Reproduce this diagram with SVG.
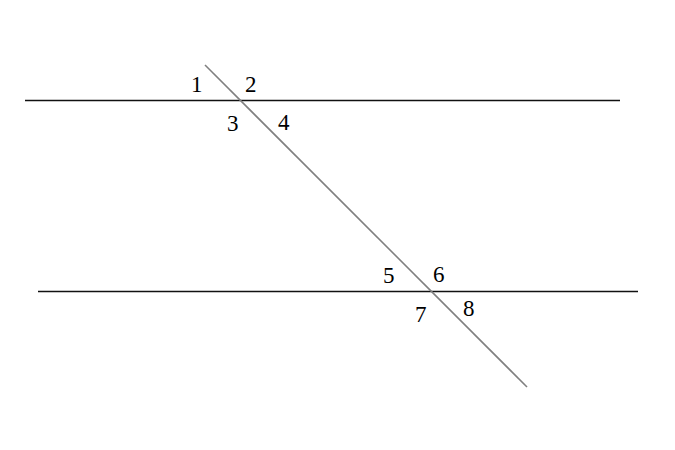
<svg xmlns="http://www.w3.org/2000/svg" width="675" height="450" viewBox="0 0 675 450">
<style>
.h{stroke:#111;stroke-width:1.3;fill:none}
.t{stroke:#808080;stroke-width:1.6;fill:none}
text{font-family:"Liberation Serif","Times New Roman",serif;font-size:23px;fill:#000}
</style>
<rect width="675" height="450" fill="#fff"/>
<g id="connectors">
<line class="h" x1="25" y1="100.5" x2="620" y2="100.5"/>
<line class="h" x1="38" y1="291.5" x2="638" y2="291.5"/>
<line class="t" x1="205" y1="65" x2="527" y2="387"/>
</g>
<g id="labels">
<text x="191" y="92">1</text>
<text x="245" y="92">2</text>
<text x="227" y="131">3</text>
<text x="278" y="130">4</text>
<text x="383" y="283">5</text>
<text x="433" y="282">6</text>
<text x="415" y="322">7</text>
<text x="463" y="316">8</text>
</g>
</svg>
